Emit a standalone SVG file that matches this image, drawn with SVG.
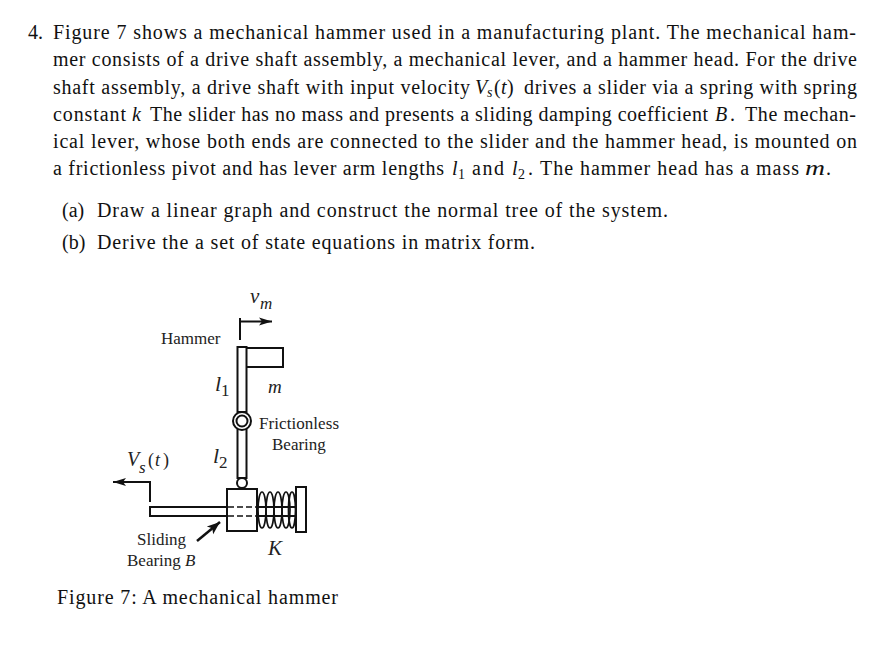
<svg xmlns="http://www.w3.org/2000/svg" width="890" height="656" viewBox="0 0 890 656">
<style>
.t{font-family:"Liberation Serif","Times New Roman",serif;font-size:20px;fill:#111}
.i{font-style:italic}
.s{font-size:14px}
.f{font-family:"Liberation Serif","Times New Roman",serif;font-size:17px;fill:#222}
.fi{font-style:italic}
.l{fill:none;stroke:#111;stroke-width:2}
.w{fill:#fff;stroke:#111;stroke-width:2}
</style>
<defs>
<marker id="a" markerWidth="14" markerHeight="10" refX="13" refY="5" orient="auto" markerUnits="userSpaceOnUse"><path d="M0 1L13 5L0 9L3 5Z" fill="#111"/></marker>
<marker id="b" markerWidth="14" markerHeight="12" refX="13" refY="6" orient="auto" markerUnits="userSpaceOnUse"><path d="M0 1L13 6L0 11L3 6Z" fill="#111"/></marker>
</defs>
<rect width="890" height="656" fill="#fff"/>
<g id="question">
<text class="t" x="28" y="39">4.</text>
<text class="t" x="53" y="39" textLength="803" lengthAdjust="spacing">Figure 7 shows a mechanical hammer used in a manufacturing plant.  The mechanical ham-</text>
<text class="t" x="53" y="66" textLength="804" lengthAdjust="spacing">mer consists of a drive shaft assembly, a mechanical lever, and a hammer head.  For the drive</text>
<text class="t" x="53" y="94" textLength="417" lengthAdjust="spacing">shaft assembly, a drive shaft with input velocity</text>
<text class="t i" x="475" y="94">V</text><text class="t i s" x="487" y="97">s</text><text class="t" x="494" y="94">(</text><text class="t i" x="501" y="94">t</text><text class="t" x="507" y="94">)</text>
<text class="t" x="524" y="94" textLength="333" lengthAdjust="spacing">drives a slider via a spring with spring</text>
<text class="t" x="53" y="121" textLength="73" lengthAdjust="spacing">constant</text>
<text class="t i" x="132" y="121">k</text>
<text class="t" x="150" y="121" textLength="558" lengthAdjust="spacing">The slider has no mass and presents a sliding damping coefficient</text>
<text class="t i" x="715" y="121">B</text>
<text class="t" x="730" y="121">.</text>
<text class="t" x="745" y="121" textLength="111" lengthAdjust="spacing">The mechan-</text>
<text class="t" x="53" y="148" textLength="804" lengthAdjust="spacing">ical lever, whose both ends are connected to the slider and the hammer head, is mounted on</text>
<text class="t" x="53" y="175" textLength="391" lengthAdjust="spacing">a frictionless pivot and has lever arm lengths</text>
<text class="t i" x="452" y="175">l</text><text class="t s" x="458" y="179">1</text>
<text class="t" x="472" y="175" textLength="32" lengthAdjust="spacing">and</text>
<text class="t i" x="512" y="175">l</text><text class="t s" x="518" y="179">2</text>
<text class="t" x="528" y="175">.</text>
<text class="t" x="540" y="175" textLength="259" lengthAdjust="spacing">The hammer head has a mass</text>
<text class="t i" x="805" y="175" textLength="20" lengthAdjust="spacingAndGlyphs">m</text>
<text class="t" x="826" y="175">.</text>
<text class="t" x="62" y="217">(a)</text>
<text class="t" x="97" y="217" textLength="571" lengthAdjust="spacing">Draw a linear graph and construct the normal tree of the system.</text>
<text class="t" x="62" y="249">(b)</text>
<text class="t" x="97" y="249" textLength="438" lengthAdjust="spacing">Derive the a set of state equations in matrix form.</text>
</g>
<g id="connectors">
<path class="l" d="M240 340V318M240 321.500H272" marker-end="url(#a)"/>
<path class="l" d="M150 502V481M150 482H113" marker-end="url(#a)"/>
<path d="M197 541L220 522" fill="none" stroke="#111" stroke-width="2.500" marker-end="url(#b)"/>
</g>
<g id="lever">
<rect class="w" x="237.500" y="347" width="9" height="65"/>
<rect class="w" x="237.500" y="428" width="9" height="50"/>
</g>
<g id="hammer-head"><path class="l" d="M247 348H283V367H247"/></g>
<g id="pivot"><circle class="w" cx="242" cy="421" r="9"/><circle class="w" cx="242" cy="421" r="5.500"/></g>
<g id="drive-shaft"><path class="l" d="M227 507H150V516H227"/></g>
<g id="spring">
<path class="l" d="M257 507H296M257 516H296"/>
<g fill="none" stroke="#111" stroke-width="1.700">
<ellipse cx="262" cy="510" rx="4" ry="18"/>
<ellipse cx="270" cy="510" rx="4" ry="18"/>
<ellipse cx="278" cy="510" rx="4" ry="18"/>
<ellipse cx="286" cy="510" rx="4" ry="18"/>
<ellipse cx="292" cy="510" rx="3.500" ry="18"/>
</g>
</g>
<g id="wall"><rect class="w" x="296" y="487" width="10" height="45"/></g>
<g id="slider">
<rect class="w" x="227" y="489" width="30" height="42"/>
<path d="M228 507H256M228 516H256" fill="none" stroke="#111" stroke-width="1.500" stroke-dasharray="6 3"/>
<circle class="w" cx="242" cy="483" r="5"/>
</g>
<g id="labels">
<text class="f fi" x="250" y="303" style="font-size:21px">v</text><text class="f fi" x="260" y="309">m</text>
<text class="f" x="161" y="344">Hammer</text>
<text class="f fi" x="215" y="391" style="font-size:22px">l</text><text class="f" x="221" y="396">1</text>
<text class="f fi" x="268" y="393" style="font-size:19px">m</text>
<text class="f" x="259" y="429" textLength="80" lengthAdjust="spacing">Frictionless</text>
<text class="f" x="272" y="450">Bearing</text>
<text class="f fi" x="127" y="466" style="font-size:20px">V</text><text class="f fi" x="139" y="473">s</text><text class="f" x="148" y="466" style="font-size:18px">(</text><text class="f fi" x="155" y="466" style="font-size:18px">t</text><text class="f" x="163" y="466" style="font-size:18px">)</text>
<text class="f fi" x="213" y="463" style="font-size:22px">l</text><text class="f" x="219" y="468">2</text>
<text class="f" x="137" y="545">Sliding</text>
<text class="f" x="127" y="566">Bearing <tspan class="fi">B</tspan></text>
<text class="f fi" x="268" y="555" style="font-size:21px">K</text>
</g>
<g id="caption">
<text class="t" x="57" y="604" textLength="281" lengthAdjust="spacing">Figure 7: A mechanical hammer</text>
</g>
</svg>
